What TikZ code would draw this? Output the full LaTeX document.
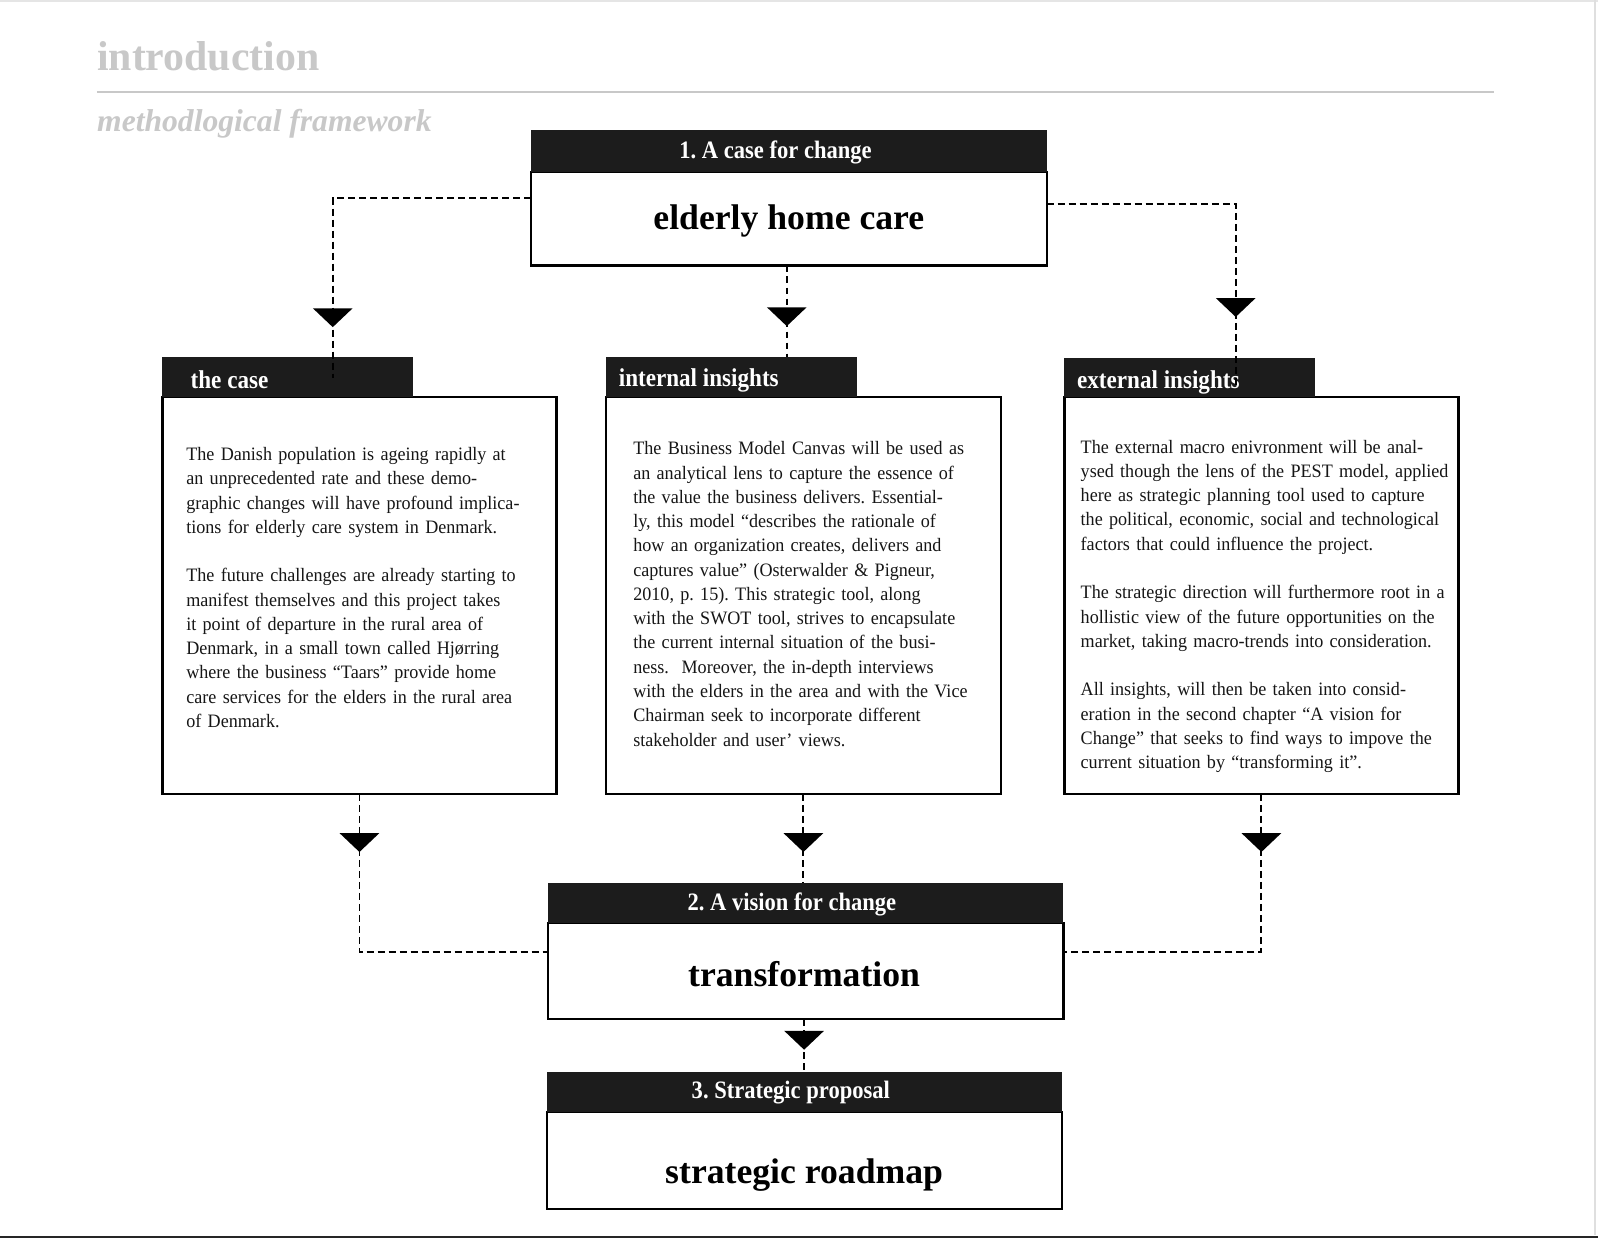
\documentclass[tikz,border=0pt]{standalone}
\usepackage{fontspec}
\setmainfont{Liberation Serif}
\newfontfamily\hdfont{Liberation Serif}[FakeStretch=0.9]
\newfontfamily\bodyfont{Liberation Serif}[FakeStretch=0.955]
\usetikzlibrary{calc}
\definecolor{hdr}{HTML}{1C1C1C}
\definecolor{lightgrey}{HTML}{C8C8C8}
\definecolor{bodyink}{HTML}{161616}
\newcommand\arrowtri[1]{\fill[black] (#1) -- ++(-19.5,-18.5) -- ++(39,0) -- cycle;}
\frenchspacing
\begin{document}
\begin{tikzpicture}[x=0.5pt,y=-0.5pt,
  hdrbar/.style={fill=hdr, draw=none, inner sep=0pt, outer sep=0pt, anchor=north west},
  bodybox/.style={draw=black, line width=1.1pt, fill=white, inner sep=0pt, outer sep=0pt, anchor=north west},
  hdrtext/.style={text=white, font=\hdfont\bfseries\fontsize{12.3}{14}\selectfont, inner sep=0pt, anchor=base},
  sechead/.style={text=white, font=\hdfont\bfseries\fontsize{12.6}{14}\selectfont, inner sep=0pt, anchor=base west},
  bigtext/.style={font=\bfseries\fontsize{17.5}{20}\selectfont, inner sep=0pt, anchor=base},
  bodytext/.style={font=\bodyfont\fontsize{9.3}{11.9}\selectfont, text=bodyink, inner sep=0pt, anchor=base west, text width=188pt, align=left},
  conn/.style={draw=black, line width=0.9pt, dash pattern=on 3.4pt off 2pt}
]
\useasboundingbox (0,0) rectangle (1568,1215);
\fill[white] (0,0) rectangle (1568,1215);
% page edges
\draw[gray!20, line width=0.8pt] (0,0.8) -- (1568,0.8);
\draw[gray!25, line width=0.8pt] (1565,0) -- (1565,1212);
\draw[black!85, line width=1pt] (0,1214) -- (1568,1214);

% heading
\node[font=\bfseries\fontsize{20.5}{24}\selectfont, text=lightgrey, anchor=base west, inner sep=0pt] (title) at (95,69.3) {introduction};
\coordinate (r1) at (95,90);
\coordinate (r2) at (1466,90);
\draw[lightgrey, line width=1pt] (r1) -- (r2);
\node[font=\bfseries\itshape\fontsize{15.5}{18}\selectfont, text=lightgrey, anchor=base west, inner sep=0pt] (sub) at (95,129) {methodlogical framework};

% box 1
\node[bodybox, minimum width=253pt, minimum height=46pt] (b1) at (521,168.5) {};
\node[hdrbar, minimum width=253pt, minimum height=20.5pt] (h1) at (521,127.5) {};
\node[hdrtext] (h1t) at (761,155.3) {1. A case for change};
\node[bigtext] (b1t) at (774,225) {elderly home care};

% three boxes
\node[bodybox, minimum width=193.3pt, minimum height=194.6pt] (bc) at (159.4,389.8) {};
\node[hdrbar, minimum width=123pt, minimum height=19.6pt] (hc) at (159.4,350.6) {};
\node[sechead] (hct) at (186.7,381) {the case};

\node[bodybox, minimum width=193.7pt, minimum height=194.6pt] (bi) at (594.6,389.8) {};
\node[hdrbar, minimum width=123pt, minimum height=19.9pt] (hi) at (594.6,350) {};
\node[sechead] (hit) at (606.8,379.4) {internal insights};

\node[bodybox, minimum width=193.3pt, minimum height=194.6pt] (be) at (1044.4,389.8) {};
\node[hdrbar, minimum width=123pt, minimum height=19.2pt] (he) at (1044.4,351.5) {};
\node[sechead] (het) at (1056.5,381) {external insights};

\node[bodytext] (tc) at (182.4,452) {The Danish population is ageing rapidly at\\
an unprecedented rate and these demo-\\
graphic changes will have profound implica-\\
tions for elderly care system in Denmark.\\[11.9pt]
The future challenges are already starting to\\
manifest themselves and this project takes\\
it point of departure in the rural area of\\
Denmark, in a small town called Hjørring\\
where the business “Taars” provide home\\
care services for the elders in the rural area\\
of Denmark.};

\node[bodytext] (ti) at (621,446.4) {The Business Model Canvas will be used as\\
an analytical lens to capture the essence of\\
the value the business delivers. Essential-\\
ly, this model “describes the rationale of\\
how an organization creates, delivers and\\
captures value” (Osterwalder \& Pigneur,\\
2010, p. 15). This strategic tool, along\\
with the SWOT tool, strives to encapsulate\\
the current internal situation of the busi-\\
ness.\ \ Moreover, the in-depth interviews\\
with the elders in the area and with the Vice\\
Chairman seek to incorporate different\\
stakeholder and user’ views.};

\node[bodytext] (te) at (1060,444.7) {The external macro enivronment will be anal-\\
ysed though the lens of the PEST model, applied\\
here as strategic planning tool used to capture\\
the political, economic, social and technological\\
factors that could influence the project.\\[11.9pt]
The strategic direction will furthermore root in a\\
hollistic view of the future opportunities on the\\
market, taking macro-trends into consideration.\\[11.9pt]
All insights, will then be taken into consid-\\
eration in the second chapter “A vision for\\
Change” that seeks to find ways to impove the\\
current situation by “transforming it”.};

% box 2
\node[bodybox, minimum width=253pt, minimum height=47pt] (b2) at (537.5,906) {};
\node[hdrbar, minimum width=253pt, minimum height=20pt] (h2) at (537.5,866) {};
\node[hdrtext] (h2t) at (777,893) {2. A vision for change};
\node[bigtext] (b2t) at (789,968) {transformation};

% box 3
\node[bodybox, minimum width=252.5pt, minimum height=47.75pt] (b3) at (537,1091) {};
\node[hdrbar, minimum width=252.5pt, minimum height=19.5pt] (h3) at (537,1052) {};
\node[hdrtext] (h3t) at (776,1078) {3. Strategic proposal};
\node[bigtext] (b3t) at (789,1161) {strategic roadmap};

% connectors from box 1
\coordinate (k1) at (326.5,194);
\coordinate (k2) at (772,0);
\coordinate (k3) at (1212.5,200);
\draw[conn] (b1.west |- k1) -- (k1) -- (k1 |- hc.north) -- ++(0,20);
\draw[conn] (b1.south -| k2) -- (hi.north -| k2);
\draw[conn] (b1.east |- k3) -- (k3) -- (k3 |- he.north) -- ++(0,27);
\coordinate (a1) at (326.5,321);
\coordinate (a2) at (772,320);
\coordinate (a3) at (1212.5,311);
\arrowtri{a1}
\arrowtri{a2}
\arrowtri{a3}

% connectors to box 2
\coordinate (yj) at (0,934);
\coordinate (ya) at (0,836);
\draw[conn] (bc.south) -- (bc.south |- yj) -- (b2.west |- yj);
\draw[conn] (bi.south) -- (bi.south |- h2.north);
\draw[conn] (be.south) -- (be.south |- yj) -- (b2.east |- yj);
\arrowtri{bc.south |- ya}
\arrowtri{bi.south |- ya}
\arrowtri{be.south |- ya}

% box 2 to box 3
\coordinate (x3) at (789,0);
\coordinate (yb) at (0,1030);
\draw[conn] (b2.south -| x3) -- (h3.north -| x3);
\arrowtri{x3 |- yb}
\end{tikzpicture}
\end{document}
